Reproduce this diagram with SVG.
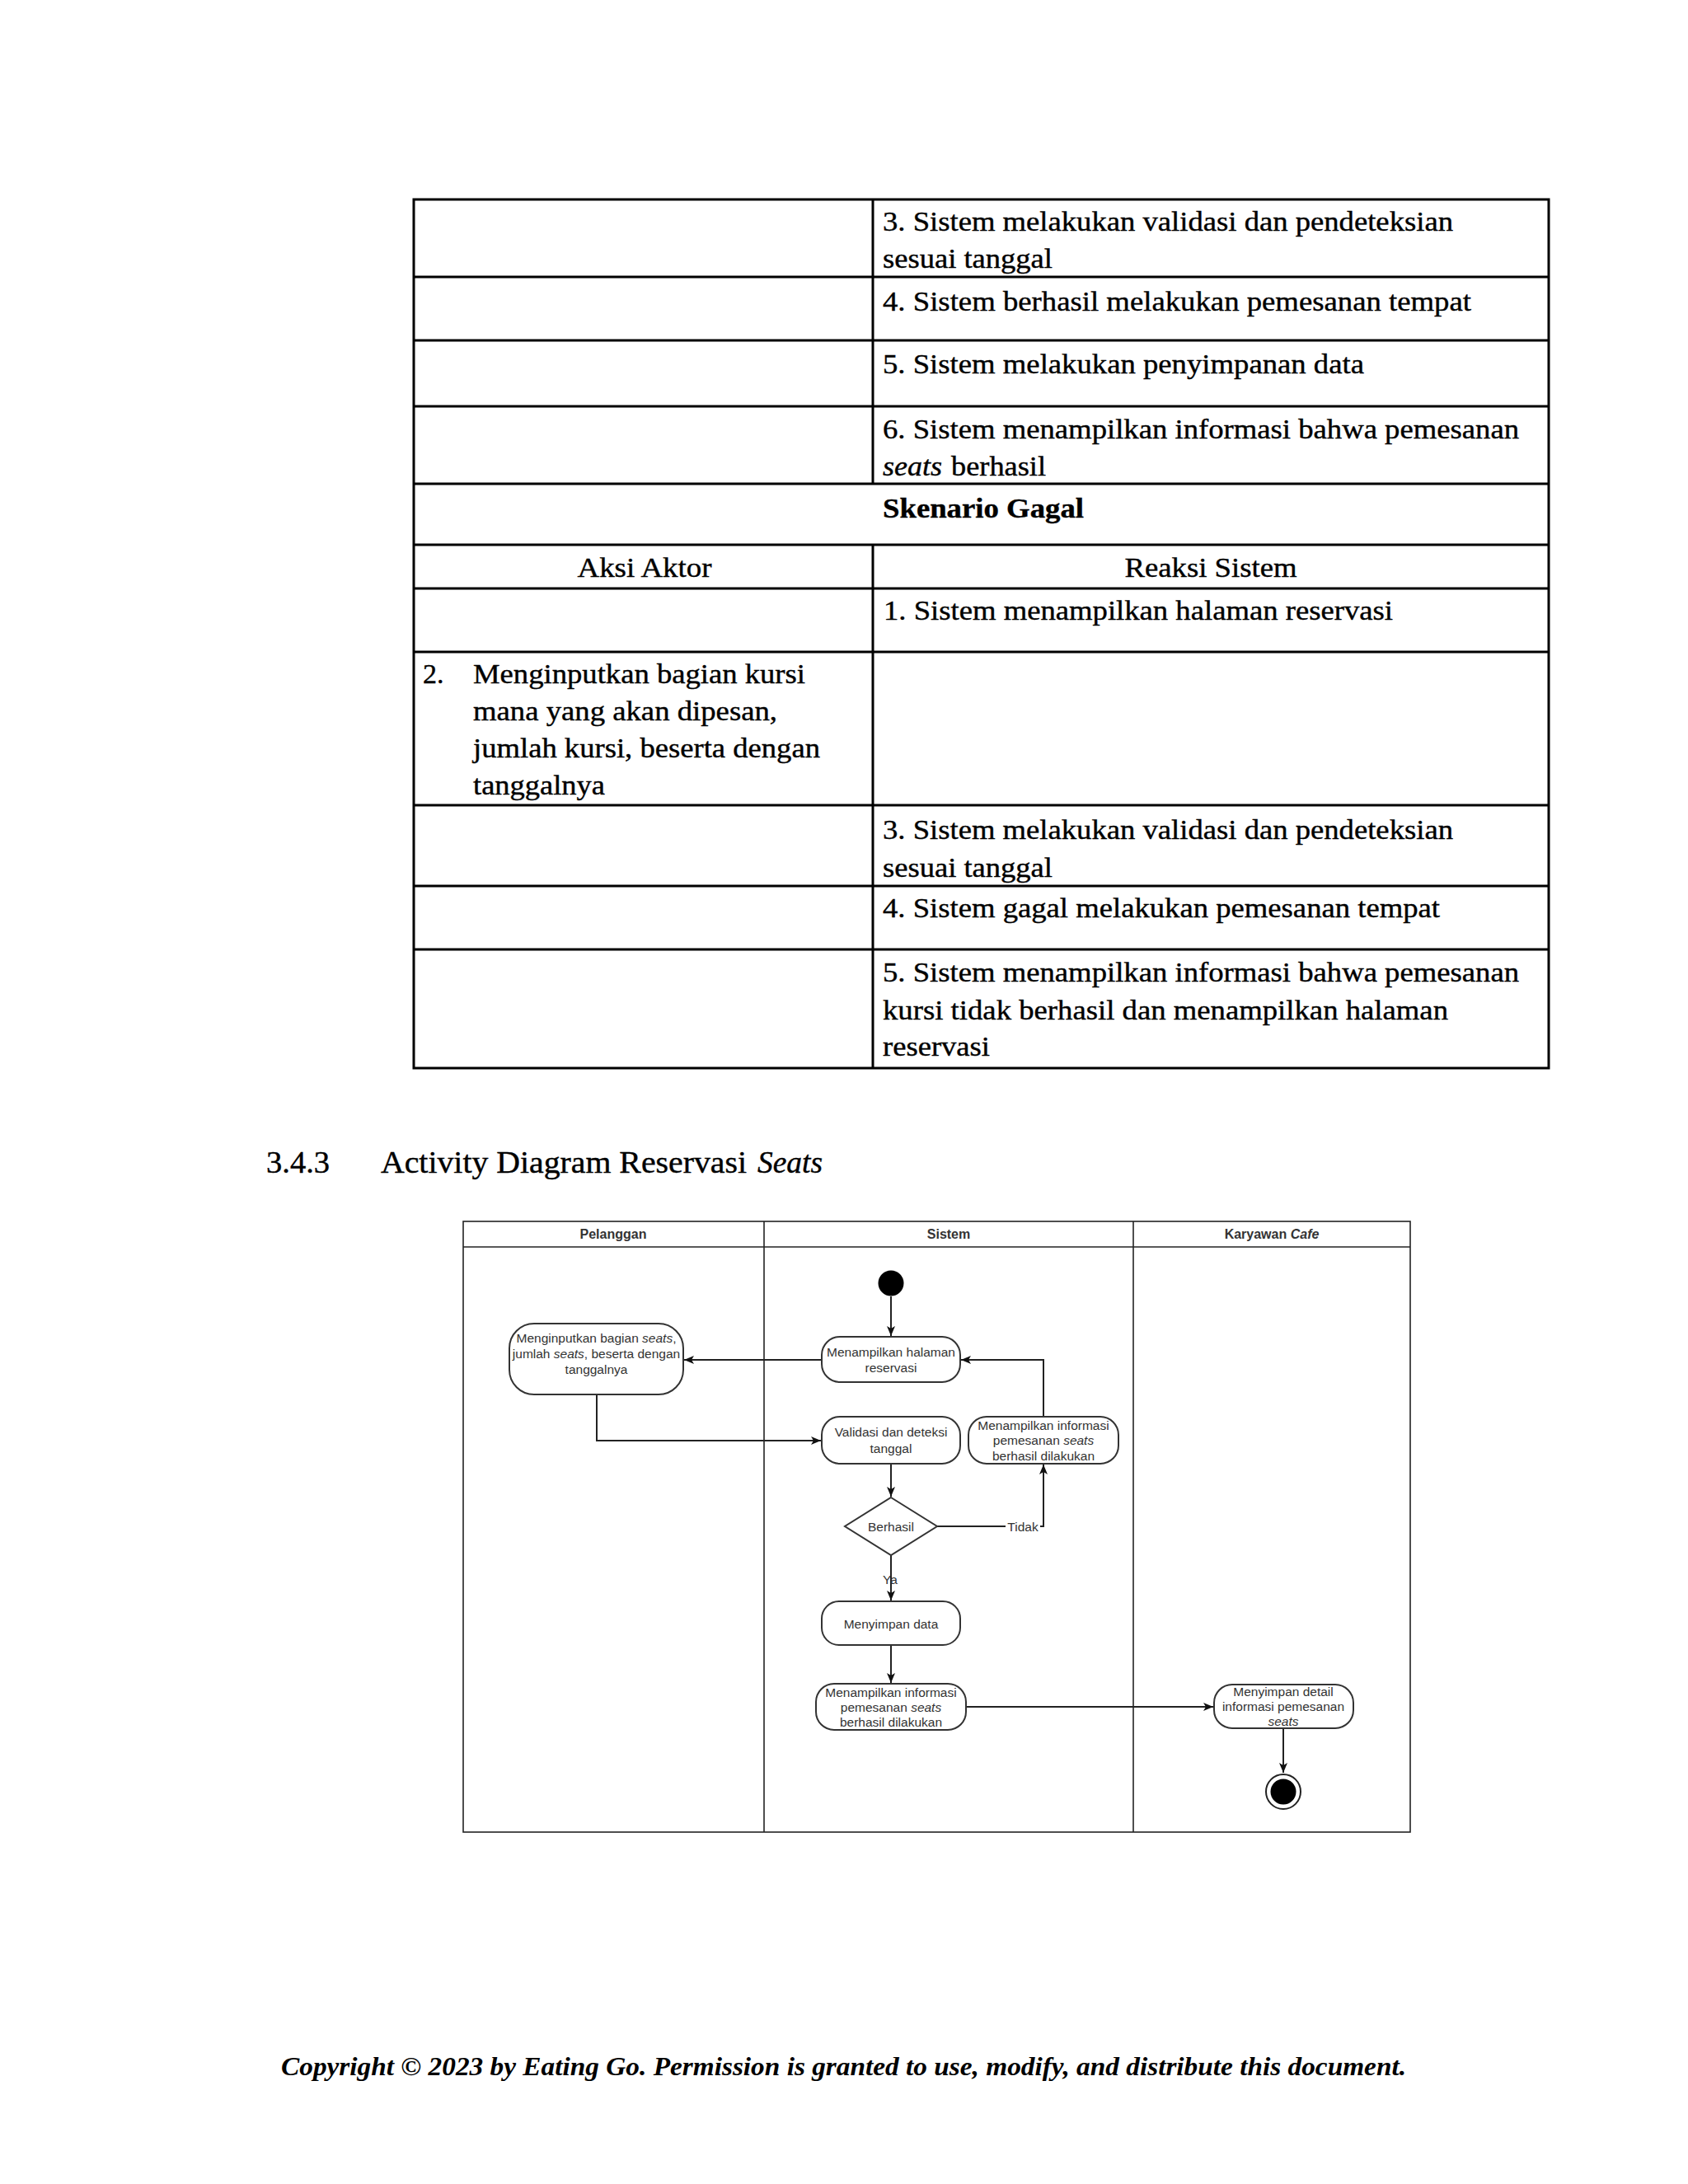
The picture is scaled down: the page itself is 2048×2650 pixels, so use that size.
<svg xmlns="http://www.w3.org/2000/svg" width="2048" height="2650" viewBox="0 0 2048 2650">
<style>
.tb{fill:none;stroke:#000;stroke-width:3}
.t{font-family:"Liberation Serif","Times New Roman",serif;font-size:34px;fill:#000;stroke:#000;stroke-width:0.4}
.h{font-family:"Liberation Serif","Times New Roman",serif;font-size:37px;fill:#000;stroke:#000;stroke-width:0.4}
.ft{font-family:"Liberation Serif","Times New Roman",serif;font-size:32px;font-weight:bold;font-style:italic;fill:#000}
.lane{fill:none;stroke:#222;stroke-width:1.6}
.lh{font-family:"Liberation Sans",Arial,sans-serif;font-size:16px;font-weight:bold;fill:#333;text-anchor:middle}
.node{fill:#fff;stroke:#333;stroke-width:2}
.nt{font-family:"Liberation Sans",Arial,sans-serif;font-size:15.5px;fill:#333;text-anchor:middle}
.edge{fill:none;stroke:#222;stroke-width:2;marker-end:url(#arr)}
.it{font-style:italic}
</style>
<defs>
<marker id="arr" viewBox="0 0 12 10" markerWidth="12" markerHeight="10" refX="12" refY="5" orient="auto" markerUnits="userSpaceOnUse">
<path d="M0,0 L12,5 L0,10 L3,5 Z" fill="#111"/>
</marker>
</defs>
<rect x="0" y="0" width="2048" height="2650" fill="#fff"/>

<g id="table">
<rect class="tb" x="502" y="242" width="1377" height="1054"/>
<line class="tb" x1="502" y1="336" x2="1879" y2="336"/>
<line class="tb" x1="502" y1="413" x2="1879" y2="413"/>
<line class="tb" x1="502" y1="493" x2="1879" y2="493"/>
<line class="tb" x1="502" y1="587" x2="1879" y2="587"/>
<line class="tb" x1="502" y1="661" x2="1879" y2="661"/>
<line class="tb" x1="502" y1="714" x2="1879" y2="714"/>
<line class="tb" x1="502" y1="791" x2="1879" y2="791"/>
<line class="tb" x1="502" y1="977" x2="1879" y2="977"/>
<line class="tb" x1="502" y1="1075" x2="1879" y2="1075"/>
<line class="tb" x1="502" y1="1152" x2="1879" y2="1152"/>
<line class="tb" x1="1059" y1="242" x2="1059" y2="587"/>
<line class="tb" x1="1059" y1="661" x2="1059" y2="1296"/>

<text class="t" x="1071" y="280" textLength="692" lengthAdjust="spacingAndGlyphs">3. Sistem melakukan validasi dan pendeteksian</text>
<text class="t" x="1071" y="325" textLength="206" lengthAdjust="spacingAndGlyphs">sesuai tanggal</text>
<text class="t" x="1071" y="377" textLength="714" lengthAdjust="spacingAndGlyphs">4. Sistem berhasil melakukan pemesanan tempat</text>
<text class="t" x="1071" y="453" textLength="584" lengthAdjust="spacingAndGlyphs">5. Sistem melakukan penyimpanan data</text>
<text class="t" x="1071" y="532" textLength="772" lengthAdjust="spacingAndGlyphs">6. Sistem menampilkan informasi bahwa pemesanan</text>
<text class="t it" x="1071" y="577" textLength="72" lengthAdjust="spacingAndGlyphs">seats</text>
<text class="t" x="1154" y="577" textLength="115" lengthAdjust="spacingAndGlyphs">berhasil</text>
<text class="t" x="1193" y="628" text-anchor="middle" font-weight="bold" textLength="244" lengthAdjust="spacingAndGlyphs">Skenario Gagal</text>
<text class="t" x="782" y="700" text-anchor="middle" textLength="163" lengthAdjust="spacingAndGlyphs">Aksi Aktor</text>
<text class="t" x="1469" y="700" text-anchor="middle" textLength="209" lengthAdjust="spacingAndGlyphs">Reaksi Sistem</text>
<text class="t" x="1072" y="752" textLength="618" lengthAdjust="spacingAndGlyphs">1. Sistem menampilkan halaman reservasi</text>
<text class="t" x="513" y="829">2.</text>
<text class="t" x="574" y="829" textLength="403" lengthAdjust="spacingAndGlyphs">Menginputkan bagian kursi</text>
<text class="t" x="574" y="874" textLength="369" lengthAdjust="spacingAndGlyphs">mana yang akan dipesan,</text>
<text class="t" x="574" y="919" textLength="421" lengthAdjust="spacingAndGlyphs">jumlah kursi, beserta dengan</text>
<text class="t" x="574" y="964" textLength="160" lengthAdjust="spacingAndGlyphs">tanggalnya</text>
<text class="t" x="1071" y="1018" textLength="692" lengthAdjust="spacingAndGlyphs">3. Sistem melakukan validasi dan pendeteksian</text>
<text class="t" x="1071" y="1064" textLength="206" lengthAdjust="spacingAndGlyphs">sesuai tanggal</text>
<text class="t" x="1071" y="1113" textLength="676" lengthAdjust="spacingAndGlyphs">4. Sistem gagal melakukan pemesanan tempat</text>
<text class="t" x="1071" y="1191" textLength="772" lengthAdjust="spacingAndGlyphs">5. Sistem menampilkan informasi bahwa pemesanan</text>
<text class="t" x="1071" y="1237" textLength="686" lengthAdjust="spacingAndGlyphs">kursi tidak berhasil dan menampilkan halaman</text>
<text class="t" x="1071" y="1281" textLength="130" lengthAdjust="spacingAndGlyphs">reservasi</text>
</g>

<g id="heading">
<text class="h" x="323" y="1423" textLength="77" lengthAdjust="spacingAndGlyphs">3.4.3</text>
<text class="h" x="462" y="1423" textLength="444" lengthAdjust="spacingAndGlyphs">Activity Diagram Reservasi</text>
<text class="h it" x="919" y="1423" textLength="79" lengthAdjust="spacingAndGlyphs">Seats</text>
</g>

<g id="swimlanes">
<rect class="lane" x="562" y="1482" width="1149" height="741"/>
<line class="lane" x1="562" y1="1513" x2="1711" y2="1513"/>
<line class="lane" x1="927" y1="1482" x2="927" y2="2223"/>
<line class="lane" x1="1375" y1="1482" x2="1375" y2="2223"/>
<text class="lh" x="744" y="1503">Pelanggan</text>
<text class="lh" x="1151" y="1503">Sistem</text>
<text class="lh" x="1543" y="1503">Karyawan <tspan class="it">Cafe</tspan></text>
</g>

<g id="connectors">
<line class="edge" x1="1081" y1="1573" x2="1081" y2="1621"/>
<line class="edge" x1="997" y1="1650" x2="830" y2="1650"/>
<path class="edge" d="M724,1692 V1748 H996"/>
<line class="edge" x1="1081" y1="1776" x2="1081" y2="1816"/>
<path class="edge" d="M1137,1852 H1266 V1777"/>
<path class="edge" d="M1266,1719 V1650 H1166"/>
<line class="edge" x1="1081" y1="1887" x2="1081" y2="1942"/>
<line class="edge" x1="1081" y1="1996" x2="1081" y2="2042"/>
<line class="edge" x1="1172" y1="2071" x2="1472" y2="2071"/>
<line class="edge" x1="1557" y1="2097" x2="1557" y2="2151"/>
<rect x="1220" y="1843" width="42" height="18" fill="#fff"/>
<text class="nt" x="1241" y="1857.5">Tidak</text>
<text class="nt" x="1080" y="1921.5">Ya</text>
</g>

<g id="start">
<circle cx="1081" cy="1557" r="15.5" fill="#000"/>
</g>

<g id="n-tampil-halaman">
<rect class="node" x="997" y="1622" width="168" height="55" rx="22"/>
<text class="nt" x="1081" y="1645.5">Menampilkan halaman</text>
<text class="nt" x="1081" y="1664.5">reservasi</text>
</g>

<g id="n-input">
<rect class="node" x="618" y="1606" width="211" height="86" rx="30"/>
<text class="nt" x="723.5" y="1628.5">Menginputkan bagian <tspan class="it">seats</tspan>,</text>
<text class="nt" x="723.5" y="1647.5">jumlah <tspan class="it">seats</tspan>, beserta dengan</text>
<text class="nt" x="723.5" y="1666.5">tanggalnya</text>
</g>

<g id="n-validasi">
<rect class="node" x="997" y="1719" width="168" height="57" rx="22"/>
<text class="nt" x="1081" y="1743">Validasi dan deteksi</text>
<text class="nt" x="1081" y="1762.5">tanggal</text>
</g>

<g id="n-info-gagal">
<rect class="node" x="1175" y="1719" width="182" height="57" rx="22"/>
<text class="nt" x="1266" y="1734.5">Menampilkan informasi</text>
<text class="nt" x="1266" y="1753">pemesanan <tspan class="it">seats</tspan></text>
<text class="nt" x="1266" y="1771.5">berhasil dilakukan</text>
</g>

<g id="n-berhasil">
<polygon class="node" points="1081,1817 1137,1852 1081,1887 1025,1852"/>
<text class="nt" x="1081" y="1858">Berhasil</text>
</g>

<g id="n-simpan">
<rect class="node" x="997" y="1943" width="168" height="53" rx="21"/>
<text class="nt" x="1081" y="1975.5">Menyimpan data</text>
</g>

<g id="n-info-berhasil">
<rect class="node" x="990" y="2043" width="182" height="56" rx="22"/>
<text class="nt" x="1081" y="2058.5">Menampilkan informasi</text>
<text class="nt" x="1081" y="2076.5">pemesanan <tspan class="it">seats</tspan></text>
<text class="nt" x="1081" y="2094.5">berhasil dilakukan</text>
</g>

<g id="n-simpan-detail">
<rect class="node" x="1473" y="2044" width="169" height="53" rx="22"/>
<text class="nt" x="1557" y="2057.5">Menyimpan detail</text>
<text class="nt" x="1557" y="2076">informasi pemesanan</text>
<text class="nt it" x="1557" y="2093.5">seats</text>
</g>

<g id="end">
<circle cx="1557" cy="2174" r="21" fill="#fff" stroke="#222" stroke-width="2"/>
<circle cx="1557" cy="2174" r="15.5" fill="#000"/>
</g>

<g id="footer">
<text class="ft" x="341" y="2518" textLength="1365" lengthAdjust="spacingAndGlyphs">Copyright © 2023 by Eating Go. Permission is granted to use, modify, and distribute this document.</text>
</g>
</svg>
